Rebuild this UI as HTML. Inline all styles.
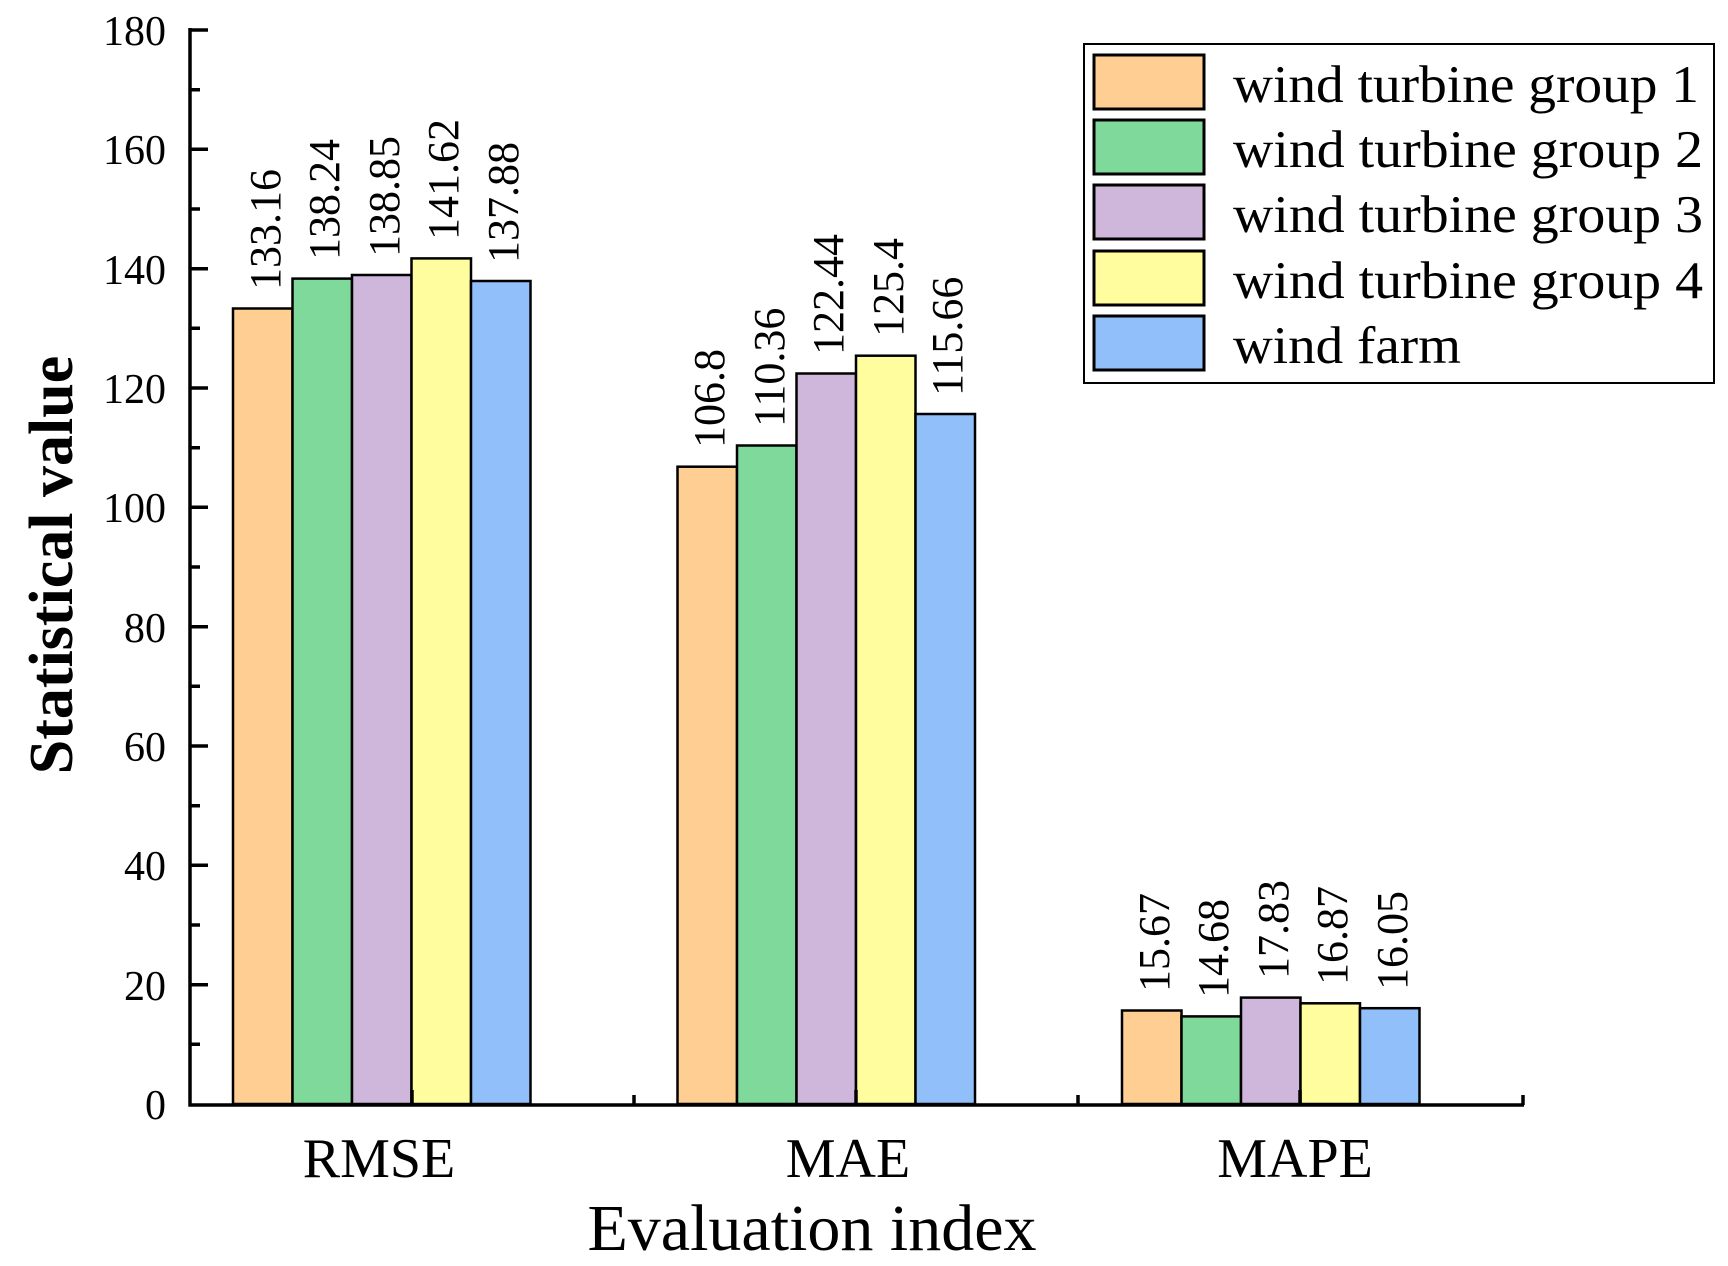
<!DOCTYPE html>
<html><head><meta charset="utf-8"><style>html,body{margin:0;padding:0;background:#fff}svg{display:block}</style></head>
<body>
<svg width="1728" height="1266" viewBox="0 0 1728 1266" xmlns="http://www.w3.org/2000/svg" font-family="Liberation Serif, serif">
<g stroke="#000" stroke-width="2.5">
<rect x="233" y="308.5" width="59.5" height="795.5" fill="#FECE92"/>
<rect x="292.5" y="278.6" width="59.5" height="825.4" fill="#7FD99A"/>
<rect x="352" y="275" width="59.5" height="829" fill="#CFB7DB"/>
<rect x="411.5" y="258.4" width="59.5" height="845.6" fill="#FFFD9E"/>
<rect x="471" y="281" width="59.5" height="823" fill="#91BFFA"/>
<rect x="677.5" y="466.7" width="59.5" height="637.3" fill="#FECE92"/>
<rect x="737" y="445.5" width="59.5" height="658.5" fill="#7FD99A"/>
<rect x="796.5" y="373.5" width="59.5" height="730.5" fill="#CFB7DB"/>
<rect x="856" y="355.7" width="59.5" height="748.3" fill="#FFFD9E"/>
<rect x="915.5" y="414" width="59.5" height="690" fill="#91BFFA"/>
<rect x="1122" y="1010.5" width="59.5" height="93.5" fill="#FECE92"/>
<rect x="1181.5" y="1016.4" width="59.5" height="87.6" fill="#7FD99A"/>
<rect x="1241" y="997.6" width="59.5" height="106.4" fill="#CFB7DB"/>
<rect x="1300.5" y="1003.3" width="59.5" height="100.7" fill="#FFFD9E"/>
<rect x="1360" y="1008.2" width="59.5" height="95.8" fill="#91BFFA"/>
</g>
<g stroke="#000" stroke-width="3.5" fill="none">
<path d="M190 28 V1105 H1524"/>
<path d="M190 30h18M190 149.3h18M190 268.7h18M190 388h18M190 507.3h18M190 626.7h18M190 746h18M190 865.3h18M190 984.7h18"/>
<path d="M190 89.7h10M190 209h10M190 328.3h10M190 447.7h10M190 567h10M190 686.3h10M190 805.7h10M190 925h10M190 1044.3h10"/>
<path d="M634 1105v-10M1078 1105v-10M1523 1105v-10M412 1105v-15M856 1105v-15M1300 1105v-15"/>
</g>
<g font-size="42" text-anchor="end" fill="#000">
<text x="166" y="45">180</text><text x="166" y="164">160</text><text x="166" y="284">140</text><text x="166" y="403">120</text><text x="166" y="522">100</text><text x="166" y="642">80</text><text x="166" y="761">60</text><text x="166" y="880">40</text><text x="166" y="1000">20</text><text x="166" y="1119">0</text>
</g>
<g font-size="56" text-anchor="middle">
<text x="379" y="1177">RMSE</text><text x="848" y="1177">MAE</text><text x="1295" y="1177">MAPE</text>
</g>
<text x="812" y="1250" font-size="66" text-anchor="middle">Evaluation index</text>
<text transform="translate(72,565) rotate(-90)" font-size="62" font-weight="bold" text-anchor="middle">Statistical value</text>
<g font-size="44">
<text transform="translate(280,290) rotate(-90)">133.16</text>
<text transform="translate(339,260) rotate(-90)">138.24</text>
<text transform="translate(399,257) rotate(-90)">138.85</text>
<text transform="translate(458,240) rotate(-90)">141.62</text>
<text transform="translate(518,263) rotate(-90)">137.88</text>
<text transform="translate(724,448) rotate(-90)">106.8</text>
<text transform="translate(784,427) rotate(-90)">110.36</text>
<text transform="translate(843,355) rotate(-90)">122.44</text>
<text transform="translate(903,337) rotate(-90)">125.4</text>
<text transform="translate(962,396) rotate(-90)">115.66</text>
<text transform="translate(1169,992) rotate(-90)">15.67</text>
<text transform="translate(1228,998) rotate(-90)">14.68</text>
<text transform="translate(1288,979) rotate(-90)">17.83</text>
<text transform="translate(1347,985) rotate(-90)">16.87</text>
<text transform="translate(1407,990) rotate(-90)">16.05</text>
</g>
<rect x="1084" y="44" width="630" height="339" fill="#fff" stroke="#000" stroke-width="2"/>
<g stroke="#000" stroke-width="3">
<rect x="1094" y="55" width="110" height="54" fill="#FECE92"/>
<rect x="1094" y="120" width="110" height="54" fill="#7FD99A"/>
<rect x="1094" y="185" width="110" height="54" fill="#CFB7DB"/>
<rect x="1094" y="251" width="110" height="54" fill="#FFFD9E"/>
<rect x="1094" y="316" width="110" height="54" fill="#91BFFA"/>
</g>
<g font-size="53">
<text x="1233" y="102" textLength="466" lengthAdjust="spacingAndGlyphs">wind turbine group 1</text>
<text x="1233" y="167" textLength="470" lengthAdjust="spacingAndGlyphs">wind turbine group 2</text>
<text x="1233" y="232" textLength="470" lengthAdjust="spacingAndGlyphs">wind turbine group 3</text>
<text x="1233" y="298" textLength="470" lengthAdjust="spacingAndGlyphs">wind turbine group 4</text>
<text x="1233" y="363" textLength="228" lengthAdjust="spacingAndGlyphs">wind farm</text>
</g>
</svg>
</body></html>
